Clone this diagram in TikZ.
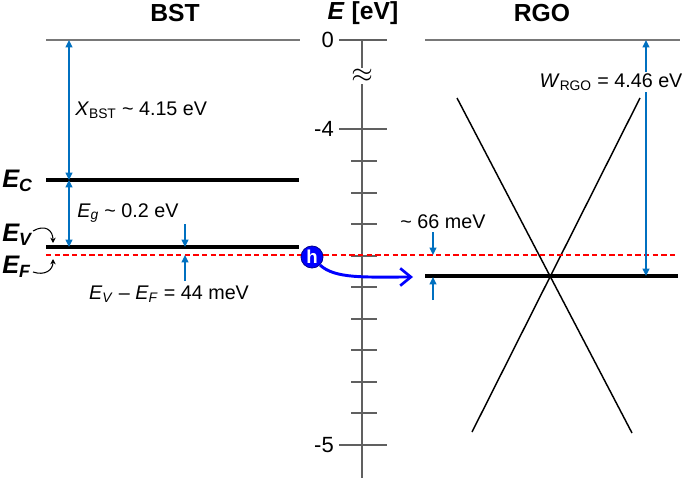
\documentclass[tikz,border=0pt]{standalone}
\usepackage{fontspec}
\setmainfont{Liberation Sans}
\usetikzlibrary{arrows.meta}
\definecolor{ablue}{RGB}{0,112,192}
\definecolor{hblue}{RGB}{0,0,255}
\definecolor{vgray}{RGB}{120,120,120}
\definecolor{efred}{RGB}{255,0,0}
\newcommand\bisub[2]{\textbf{\textit{#1\textsubscript{#2}}}}
\begin{document}
\begin{tikzpicture}[x=0.75pt,y=-0.75pt,
  >={Triangle[length=5.5pt,width=5pt]},
  vac/.style={draw=vgray,line width=0.9pt},
  band/.style={draw=black,line width=2.6pt},
  axisline/.style={draw=vgray!80!black,line width=0.9pt},
  barrow/.style={draw=ablue,line width=1.1pt},
  lab/.style={font=\fontsize{14.8}{16}\selectfont,inner sep=0pt},
  head/.style={font=\fontsize{18.5}{20}\selectfont\bfseries,inner sep=0pt},
  ticklab/.style={font=\fontsize{16.5}{18}\selectfont,inner sep=0pt,anchor=east},
  elab/.style={font=\fontsize{19}{21}\selectfont,inner sep=0pt,anchor=west},
  cone/.style={draw=black,line width=1.1pt}]
\useasboundingbox (0,0) rectangle (685,481);

% headers
\node[head] (hBST) at (175,13) {BST};
\node[head] (hE) at (363,13) {\textit{E} [eV]};
\node[head] (hRGO) at (542,13) {RGO};

% key coordinates
\coordinate (vL1) at (46,40);  \coordinate (vL2) at (300,40);
\coordinate (vR1) at (425,40); \coordinate (vR2) at (680,40);
\coordinate (ec1) at (46,180); \coordinate (ec2) at (299,180);
\coordinate (ev1) at (46,247); \coordinate (ev2) at (299,247);
\coordinate (ef1) at (46,255); \coordinate (ef2) at (675,255);
\coordinate (dp1) at (425,276); \coordinate (dp2) at (678,276);

% axis
\coordinate (ax0) at (362,40); \coordinate (ax1) at (362,478);
\draw[axisline] (ax0) -- (ax1);
\foreach \yy/\lab in {40/0,129/-4,445/-5}{
  \draw[axisline] (339,\yy) -- (387,\yy);
  \node[ticklab] at (334,\yy) {\lab};
}
\foreach \yy in {161,193,224,256,287,319,350,382,413}{
  \draw[axisline] (351,\yy) -- (377,\yy);
}
\node[fill=white,inner sep=1pt,font=\fontsize{22}{22}\selectfont] (brk) at (362,76) {$\approx$};

% vacuum levels
\draw[vac] (vL1) -- (vL2);
\draw[vac] (vR1) -- (vR2);

% Dirac cone
\coordinate (c1a) at (457,98);  \coordinate (c1b) at (632,433);
\coordinate (c2a) at (640,98);  \coordinate (c2b) at (472,432);
\draw[cone] (c1a) -- (c1b);
\draw[cone] (c2a) -- (c2b);

% bands
\draw[band] (ec1) -- (ec2);
\draw[band] (ev1) -- (ev2);
\draw[band] (dp1) -- (dp2);
\draw[efred,line width=0.9pt,dash pattern=on 4pt off 2.5pt] (ef1) -- (ef2);

% BST arrows
\coordinate (xa) at (69,40); \coordinate (xb) at (69,180); \coordinate (xc) at (69,247);
\draw[barrow,<->] (xa) -- (xb);
\draw[barrow,<->] (xb) -- (xc);
\node[lab,anchor=west] (xlab) at (75,110) {\textit{X}\textsubscript{BST} \textasciitilde{} 4.15 eV};
\node[lab,anchor=west] (eglab) at (77,213) {\textit{E}\textsubscript{\textit{g}} \textasciitilde{} 0.2 eV};

\coordinate (d1a) at (185,224); \coordinate (d1b) at (185,247);
\coordinate (d2a) at (185,281); \coordinate (d2b) at (185,255);
\draw[barrow,->] (d1a) -- (d1b);
\draw[barrow,->] (d2a) -- (d2b);
\node[lab] (dlab) at (169,294) {\textit{E}\textsubscript{\textit{V}} – \textit{E}\textsubscript{\textit{F}} = 44 meV};

% RGO arrows
\coordinate (g1a) at (433,232); \coordinate (g1b) at (433,255);
\coordinate (g2a) at (433,300); \coordinate (g2b) at (433,277);
\draw[barrow,->] (g1a) -- (g1b);
\draw[barrow,->] (g2a) -- (g2b);
\node[lab] (glab) at (443,222) {\textasciitilde{} 66 meV};

\coordinate (wa) at (646,40); \coordinate (wb) at (646,276);
\draw[barrow,<->] (wa) -- (wb);
\node[lab,fill=white,inner sep=1.5pt] (wlab) at (611,82) {\textit{W}\textsubscript{RGO} = 4.46 eV};

% E labels
\node[elab] (EC) at (2,181) {\bisub{E}{C}};
\node[elab] (EV) at (2,235) {\bisub{E}{V}};
\node[elab] (EF) at (2,267) {\bisub{E}{F}};
\coordinate (evt) at (53,243); \coordinate (eft) at (53,259);
\draw[line width=0.8pt,-{Stealth[length=4pt,width=4pt]}] (33,231) .. controls (45,224) and (53,230) .. (evt);
\draw[line width=0.8pt,-{Stealth[length=4pt,width=4pt]}] (33,272) .. controls (45,276) and (53,270) .. (eft);

% hole
\node[circle,fill=hblue,draw=hblue!55!black,line width=0.6pt,minimum size=16.5pt,inner sep=0pt,text=white,font=\fontsize{14}{14}\selectfont\bfseries] (h) at (312,257) {h};
\coordinate (hend) at (413,277);
\draw[hblue,line width=2.2pt,-{Straight Barb[length=8pt,width=13pt,line width=2pt]}] (h.-45) .. controls (335,279) and (365,277) .. (hend);
\end{tikzpicture}
\end{document}
